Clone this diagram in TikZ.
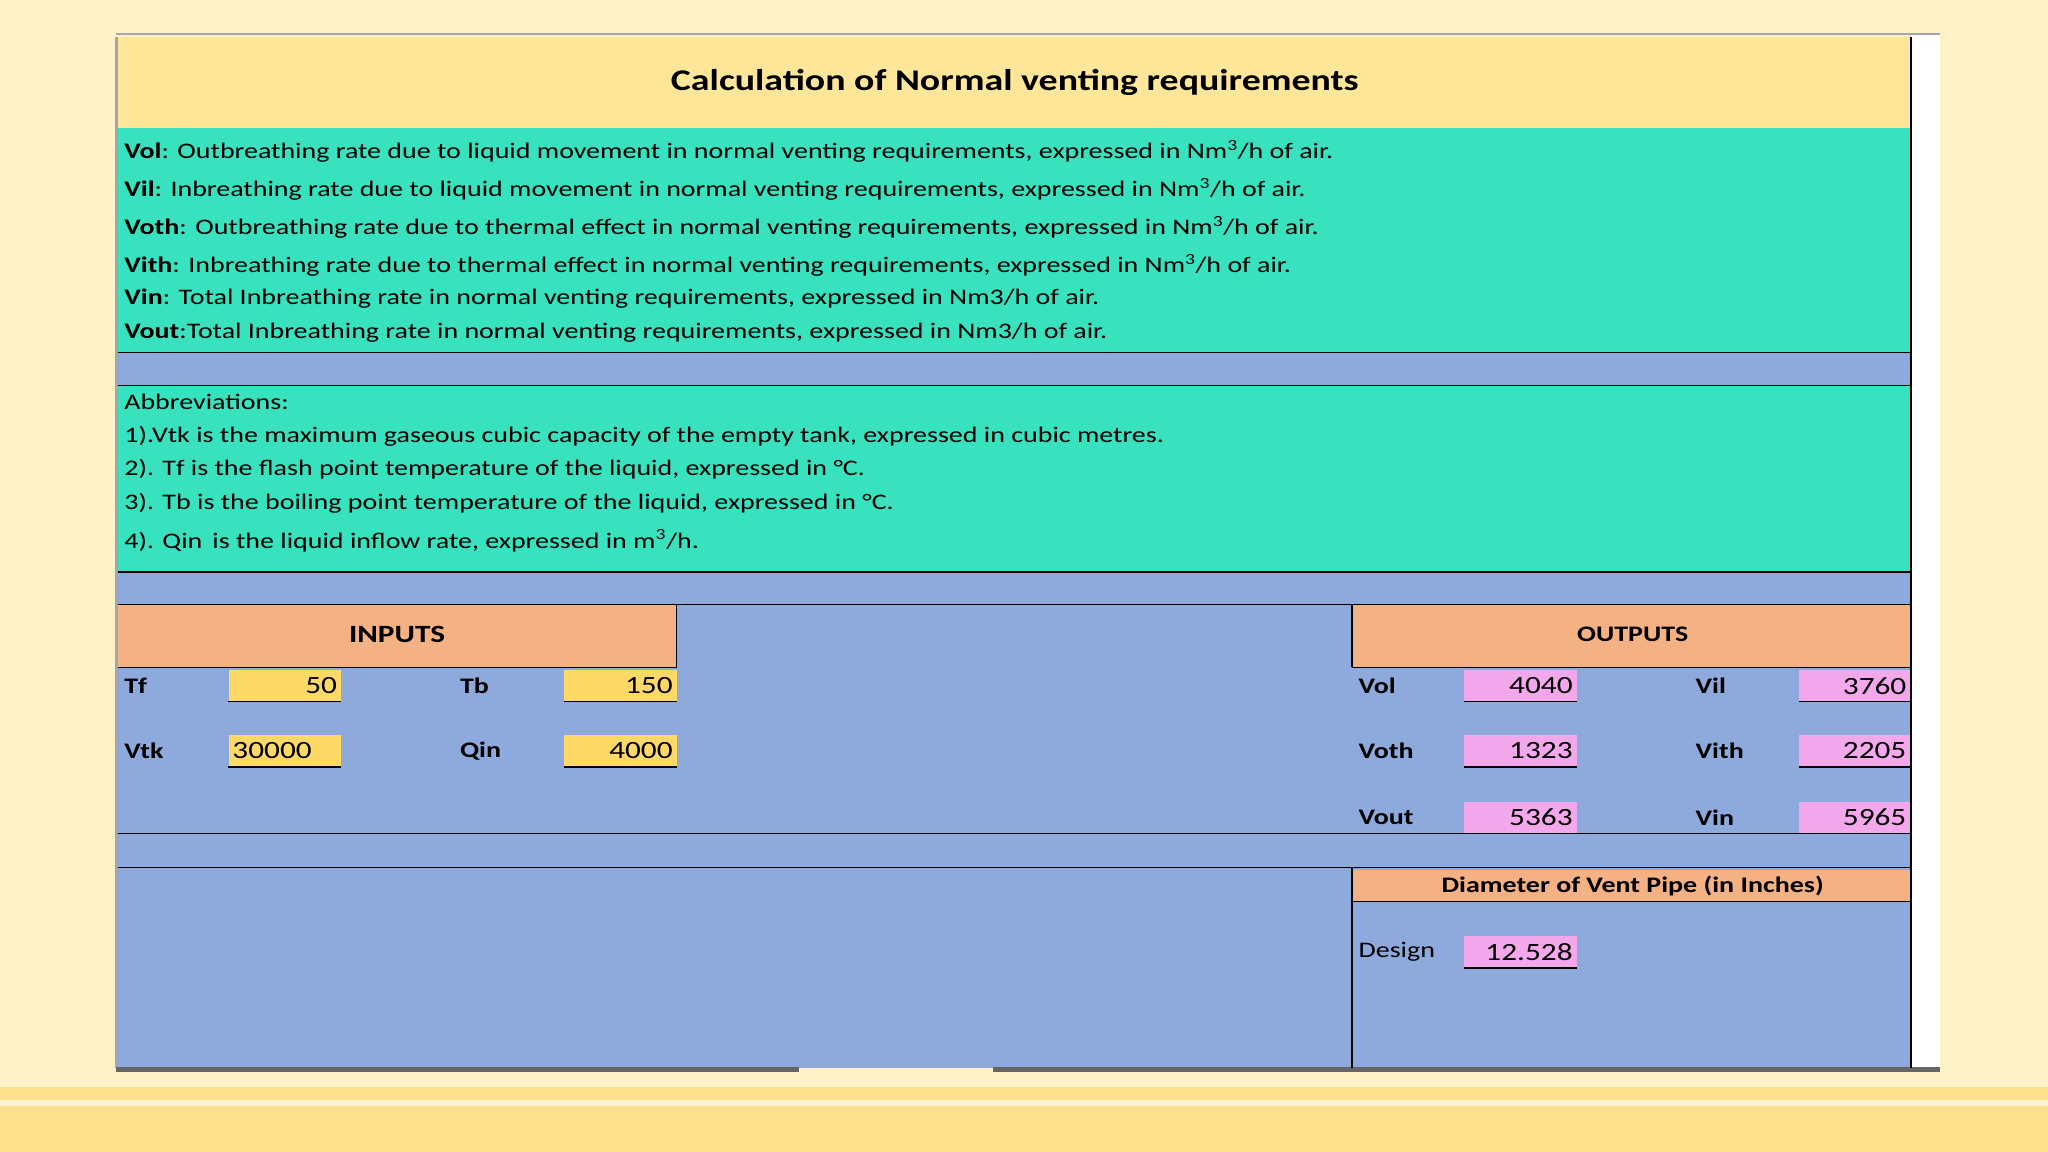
\documentclass[tikz,border=0pt]{standalone}
\usepackage{fontspec}
\setmainfont{Carlito}[FakeStretch=1.26]
\definecolor{bgy}{HTML}{FDF1C8}
\definecolor{bandy}{HTML}{FCE08A}
\definecolor{titley}{HTML}{FFE699}
\definecolor{teal}{HTML}{38E2BF}
\definecolor{blu}{HTML}{8EA9DB}
\definecolor{salm}{HTML}{F4B183}
\definecolor{yel}{HTML}{FFD966}
\definecolor{pnk}{HTML}{F4A8EC}
\tikzset{
  txt/.style={anchor=west,inner sep=0pt,font=\fontsize{17}{17}\selectfont},
  lbl/.style={anchor=west,inner sep=0pt,font=\fontsize{17}{17}\selectfont\bfseries},
  valbox/.style={minimum width=86pt,minimum height=24pt,inner sep=3pt,font=\fontsize{19}{19}\selectfont},
  hdr/.style={font=\fontsize{19}{19}\selectfont\bfseries},
}
\begin{document}
\begin{tikzpicture}[x=1pt,y=-1pt]
\useasboundingbox (0,0) rectangle (1568,882);
\fill[bgy] (0,0) rectangle (1568,882);
\fill[bandy] (0,832) rectangle (1568,882);
\fill[white!60!bandy] (0,842) rectangle (1568,847);
\fill[white] (1463,25) rectangle (1485,818);
% sheet
\fill[titley] (90,28) rectangle (1463,98);
\fill[teal] (90,98) rectangle (1463,270);
\fill[blu] (90,270) rectangle (1463,295);
\fill[teal] (90,295) rectangle (1463,438);
\fill[blu] (90,438) rectangle (1463,818);
\fill[salm] (90,463) rectangle (518,511);
\fill[salm] (1035,463) rectangle (1463,511);
\fill[salm] (1035,666) rectangle (1463,690);
\draw[gray!70,line width=2pt] (89,26) -- (1485,26);
\draw[gray!70,line width=2pt] (89,28) -- (89,818);
\draw[gray!80!black,line width=4pt] (89,819) -- (612,819) (760,819) -- (1485,819);
\draw[black,line width=1pt] (90,270) -- (1463,270) (90,295) -- (1463,295) (90,438) -- (1463,438)
  (90,463) -- (1463,463) (518,463) -- (518,511) (1035,463) -- (1035,511) (90,511) -- (518,511) (1035,511) -- (1463,511)
  (90,638) -- (1463,638) (90,664) -- (1463,664);
\draw[black,line width=2pt] (1463,28) -- (1463,818) (1035,664) -- (1035,818);
\draw[black,line width=1pt] (1035,690) -- (1463,690);
\node[hdr,font=\fontsize{23}{23}\selectfont\bfseries] (title) at (777,63) {Calculation of Normal venting requirements};
\node[txt] (d1) at (95,116) {\textbf{Vol}: Outbreathing rate due to liquid movement in normal venting requirements, expressed in Nm\textsuperscript{3}/h of air.};
\node[txt] (d2) at (95,145) {\textbf{Vil}: Inbreathing rate due to liquid movement in normal venting requirements, expressed in Nm\textsuperscript{3}/h of air.};
\node[txt] (d3) at (95,174) {\textbf{Voth}: Outbreathing rate due to thermal effect in normal venting requirements, expressed in Nm\textsuperscript{3}/h of air.};
\node[txt] (d4) at (95,203) {\textbf{Vith}: Inbreathing rate due to thermal effect in normal venting requirements, expressed in Nm\textsuperscript{3}/h of air.};
\node[txt] (d5) at (95,229) {\textbf{Vin}: Total Inbreathing rate in normal venting requirements, expressed in Nm3/h of air.};
\node[txt] (d6) at (95,255) {\textbf{Vout}:Total Inbreathing rate in normal venting requirements, expressed in Nm3/h of air.};
\node[txt] (a0) at (95,308) {Abbreviations:};
\node[txt] (a1) at (95,334) {1).Vtk is the maximum gaseous cubic capacity of the empty tank, expressed in cubic metres.};
\node[txt] (a2) at (95,359) {2). Tf is the flash point temperature of the liquid, expressed in °C.};
\node[txt] (a3) at (95,385) {3). Tb is the boiling point temperature of the liquid, expressed in °C.};
\node[txt] (a4) at (95,414) {4). Qin\, is the liquid inflow rate, expressed in m\textsuperscript{3}/h.};
\node[hdr] (inp) at (304,486) {INPUTS};
\node[font=\fontsize{17}{17}\selectfont\bfseries] (outp) at (1250,486) {OUTPUTS};
\node[font=\fontsize{17}{17}\selectfont\bfseries] (diam) at (1250,678) {Diameter of Vent Pipe (in Inches)};
% inputs
\node[lbl] (ltf) at (95,525) {Tf};
\node[lbl] (ltb) at (352,525) {Tb};
\node[lbl] (lvtk) at (95,575) {Vtk};
\node[lbl] (lqin) at (352,575) {Qin};
\node[valbox,fill=yel,align=right,text width=80pt] (vtf) at (218,525) {50};
\node[valbox,fill=yel,align=right,text width=80pt] (vtb) at (475,525) {150};
\node[valbox,fill=yel,align=left,text width=80pt] (vvtk) at (218,575) {30000};
\node[valbox,fill=yel,align=right,text width=80pt] (vqin) at (475,575) {4000};
% outputs
\node[lbl] (lvol) at (1040,525) {Vol};
\node[lbl] (lvil) at (1298,525) {Vil};
\node[lbl] (lvoth) at (1040,575) {Voth};
\node[lbl] (lvith) at (1298,575) {Vith};
\node[lbl] (lvout) at (1040,626) {Vout};
\node[lbl] (lvin) at (1298,626) {Vin};
\node[valbox,fill=pnk,align=right,text width=80pt] (vvol) at (1164,525) {4040};
\node[valbox,fill=pnk,align=right,text width=79pt,minimum width=85pt] (vvil) at (1420,525) {3760};
\node[valbox,fill=pnk,align=right,text width=80pt] (vvoth) at (1164,575) {1323};
\node[valbox,fill=pnk,align=right,text width=79pt,minimum width=85pt] (vvith) at (1420,575) {2205};
\node[valbox,fill=pnk,align=right,text width=80pt] (vvout) at (1164,626) {5363};
\node[valbox,fill=pnk,align=right,text width=79pt,minimum width=85pt] (vvin) at (1420,626) {5965};
\node[txt,font=\fontsize{17}{17}\selectfont] (ldes) at (1040,729) {Design};
\node[valbox,fill=pnk,align=right,text width=80pt] (vdes) at (1164,729) {12.528};
\foreach \n in {vtf,vtb,vvtk,vqin,vvol,vvil,vvoth,vvith,vvout,vvin,vdes}
  \draw[black,line width=1.2pt] (\n.south west) -- (\n.south east);
\end{tikzpicture}
\end{document}
